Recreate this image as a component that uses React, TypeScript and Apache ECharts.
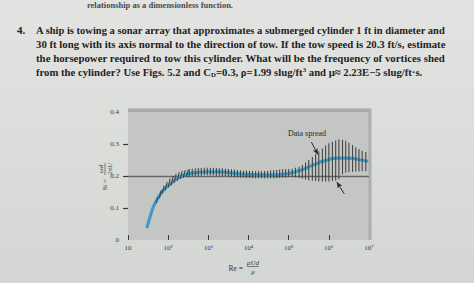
import React, { useEffect, useRef } from 'react';
import * as echarts from 'echarts';

// ---------- text content ----------
const cutLine = 'relationship as a dimensionless function.';
const problemNumber = '4.';
const problemLines = [
  'A ship is towing a sonar array that approximates a submerged cylinder 1 ft in diameter and',
  '30 ft long with its axis normal to the direction of tow. If the tow speed is 20.3 ft/s, estimate',
  'the horsepower required to tow this cylinder. What will be the frequency of vortices shed',
];
const lastLineRich =
  'from the cylinder? Use Figs. 5.2 and C{sub|D}=0.3, ρ=1.99 slug/ft{sup|3} and μ≈ 2.23E−5 slug/ft·s.';
const lastLinePlain =
  'from the cylinder? Use Figs. 5.2 and CD=0.3, ρ=1.99 slug/ft3 and μ≈ 2.23E−5 slug/ft·s.';
const spreadLabel = 'Data spread';

// ---------- chart data ----------
// Strouhal number curve St vs Re
const curveRe = [29.5, 35.5, 44.7, 60, 79, 117, 170, 250, 450, 950, 2000, 4000, 1e4, 3.2e4, 1e5, 2e5, 4e5, 8e5, 1.6e6, 3.2e6, 6.3e6, 9.6e6];
const curveSt = [0.037, 0.073, 0.109, 0.137, 0.158, 0.177, 0.193, 0.203, 0.21, 0.213, 0.213, 0.209, 0.205, 0.203, 0.208, 0.218, 0.234, 0.248, 0.256, 0.256, 0.25, 0.246];

// data spread hatch lines (Re, low St, high St)
const spreadRe = [
  50, 60, 71, 84, 100, 119, 141, 168, 200, 237, 282, 335, 398, 473, 562, 668, 794, 944,
  1122, 1334, 1585, 1884, 2239, 2661, 3162, 3758, 4467, 5309, 6310, 7499, 8913,
  10590, 12590, 14960, 17780, 21130, 25120, 29850, 35480, 42170, 50120, 59570, 70790, 84140,
  1.0e5, 1.23e5, 1.48e5, 1.82e5, 2.19e5, 2.63e5, 3.16e5, 3.89e5, 4.68e5, 5.62e5, 6.92e5, 8.32e5,
  1.0e6, 1.23e6, 1.48e6, 1.78e6, 2.19e6, 2.63e6, 3.16e6, 3.89e6, 4.68e6, 5.62e6, 6.76e6, 8.32e6,
];
const spreadLow = [
  0.115, 0.132, 0.145, 0.155, 0.164, 0.171, 0.179, 0.185, 0.19, 0.194, 0.197, 0.198, 0.199, 0.2, 0.2, 0.201, 0.202, 0.202,
  0.202, 0.202, 0.201, 0.201, 0.2, 0.2, 0.199, 0.198, 0.197, 0.196, 0.195, 0.195, 0.194,
  0.194, 0.193, 0.193, 0.193, 0.193, 0.193, 0.193, 0.193, 0.193, 0.193, 0.194, 0.195, 0.195,
  0.197, 0.197, 0.196, 0.194, 0.192, 0.189, 0.187, 0.185, 0.184, 0.183, 0.183, 0.183,
  0.183, 0.184, 0.186, 0.19, 0.205, 0.21, 0.212, 0.213, 0.214, 0.214, 0.215, 0.215,
];
const spreadHigh = [
  0.135, 0.155, 0.17, 0.182, 0.192, 0.2, 0.207, 0.212, 0.216, 0.218, 0.22, 0.222, 0.223, 0.224, 0.225, 0.225, 0.226, 0.226,
  0.226, 0.225, 0.225, 0.224, 0.224, 0.223, 0.222, 0.221, 0.22, 0.219, 0.218, 0.217, 0.217,
  0.216, 0.216, 0.215, 0.215, 0.215, 0.216, 0.216, 0.217, 0.218, 0.219, 0.22, 0.221, 0.222,
  0.222, 0.223, 0.226, 0.229, 0.234, 0.242, 0.25, 0.259, 0.268, 0.277, 0.286, 0.295,
  0.302, 0.307, 0.311, 0.314, 0.313, 0.31, 0.304, 0.297, 0.29, 0.284, 0.279, 0.275,
];

// arrows pointing to the data spread: [fromRe, fromSt, toRe, toSt]
const arrowUpper = [3.68e5, 0.306, 5.33e5, 0.267];
const arrowLower = [2.43e6, 0.144, 1.58e6, 0.181];
const referenceSt = 0.2;

const yTickValues = [0.1, 0.2, 0.3];
const supDigits: Record<number, string> = { 2: '²', 3: '³', 4: '⁴', 5: '⁵', 6: '⁶', 7: '⁷' };

const SERIF = '"Liberation Serif", "DejaVu Serif", serif';

function measure(text: string, font: string): number {
  const c = document.createElement('canvas');
  const ctx = c.getContext('2d');
  if (!ctx) return 400;
  ctx.font = font;
  return ctx.measureText(text).width;
}

export default function App() {
  const ref = useRef<HTMLDivElement>(null);

  useEffect(() => {
    if (!ref.current) return;
    const chart = echarts.init(ref.current, null, { renderer: 'svg' });

    const textFont = `bold 11px ${SERIF}`;
    const targets = [410, 410, 410];
    const lineYs = [29.5, 43.5, 57.5, 71.5];
    const textColor = '#232322';

    const textGraphics: any[] = problemLines.map((t, i) => {
      const w = measure(t, textFont);
      return {
        type: 'text',
        x: 36,
        y: lineYs[i],
        scaleX: targets[i] / w,
        style: {
          text: t,
          font: textFont,
          fill: textColor,
          textVerticalAlign: 'middle',
          textAlign: 'left',
        },
      };
    });
    const w4 = measure(lastLinePlain, textFont);
    textGraphics.push({
      type: 'text',
      x: 36,
      y: lineYs[3],
      scaleX: 391 / w4,
      style: {
        text: lastLineRich,
        font: textFont,
        fill: textColor,
        textVerticalAlign: 'middle',
        textAlign: 'left',
        rich: {
          sub: { fontSize: 7, fontWeight: 'bold', fontFamily: SERIF, fill: textColor, padding: [5, 0, 0, 0] },
          sup: { fontSize: 7, fontWeight: 'bold', fontFamily: SERIF, fill: textColor, padding: [0, 0, 5, 0] },
        },
      },
    });
    textGraphics.push({
      type: 'text',
      x: 17,
      y: lineYs[0],
      style: { text: problemNumber, font: textFont, fill: textColor, textVerticalAlign: 'middle' },
    });
    textGraphics.push({
      type: 'text',
      x: 233,
      y: 5,
      style: { text: cutLine, font: `bold 8.5px ${SERIF}`, fill: '#4a4a48', textVerticalAlign: 'middle', textAlign: 'right' },
    });

    const smallFont = `7px ${SERIF}`;
    const italicFont = `italic 7px ${SERIF}`;
    const labelColor = '#3a3a38';

    const option: any = {
      animation: false,
      backgroundColor: 'transparent',
      grid: {
        left: 128,
        right: 105,
        top: 112,
        bottom: 43,
        show: true,
        backgroundColor: '#c4c6c3',
        borderWidth: 0,
      },
      xAxis: {
        type: 'log',
        logBase: 10,
        min: 10,
        max: 1e7,
        splitNumber: 6,
        axisLine: { show: false },
        splitLine: { show: false },
        axisTick: { show: true, inside: true, length: 5, lineStyle: { color: '#3a3a38', width: 1 } },
        axisLabel: {
          margin: 4,
          fontSize: 7,
          fontFamily: SERIF,
          color: labelColor,
          formatter: (v: number) => {
            const e = Math.round(Math.log10(v));
            return e === 1 ? '10' : '10' + (supDigits[e] || '');
          },
        },
      },
      yAxis: {
        type: 'value',
        min: 0,
        max: 0.4,
        interval: 0.1,
        axisLine: { show: false },
        splitLine: { show: false },
        axisTick: {
          show: true,
          inside: false,
          length: 5,
          customValues: yTickValues,
          lineStyle: { color: '#3a3a38', width: 1.2 },
        },
        axisLabel: {
          margin: 9,
          fontSize: 7,
          fontFamily: SERIF,
          color: labelColor,
          formatter: (v: number) => (v === 0 ? '0' : v.toFixed(1)),
        },
      },
      series: [
        {
          type: 'line',
          data: curveRe.map((r, i) => [r, curveSt[i]]),
          smooth: true,
          showSymbol: false,
          lineStyle: { color: '#3d9cc8', width: 3.2 },
          z: 3,
          markLine: {
            silent: true,
            symbol: 'none',
            label: { show: false },
            lineStyle: { color: '#666764', width: 1.3, type: 'solid' },
            data: [{ yAxis: referenceSt }],
            z: 2,
          },
        },
        {
          type: 'custom',
          data: spreadRe.map((r, i) => [r, spreadLow[i], spreadHigh[i]]),
          encode: { x: 0, y: [1, 2] },
          z: 4,
          renderItem: (params: any, api: any) => {
            const a = api.coord([api.value(0), api.value(1)]);
            const b = api.coord([api.value(0), api.value(2)]);
            const lean = api.value(0) < 300 ? 2 : 0;
            return {
              type: 'line',
              shape: { x1: a[0], y1: a[1], x2: b[0] + lean, y2: b[1] },
              style: { stroke: '#383a3a', lineWidth: 1.1, opacity: 0.9 },
            };
          },
        },
        {
          type: 'line',
          data: [],
          markLine: {
            silent: true,
            symbol: ['none', 'arrow'],
            symbolSize: [4, 6],
            label: { show: false },
            lineStyle: { color: '#2a2a2a', width: 1, type: 'solid' },
            data: [
              [{ coord: [arrowUpper[0], arrowUpper[1]] }, { coord: [arrowUpper[2], arrowUpper[3]] }],
              [{ coord: [arrowLower[0], arrowLower[1]] }, { coord: [arrowLower[2], arrowLower[3]] }],
            ],
          },
        },
      ],
      graphic: [
        // plot frame strips (top and right)
        { type: 'rect', shape: { x: 128, y: 108.5, width: 243, height: 3.5 }, style: { fill: '#a8aaa7' }, z: 1 },
        { type: 'rect', shape: { x: 368.5, y: 108.5, width: 3, height: 131.5 }, style: { fill: '#adafac' }, z: 1 },
        ...textGraphics,
        {
          type: 'text',
          x: 307,
          y: 133,
          style: { text: spreadLabel, font: `8px ${SERIF}`, fill: '#2a2a2a', textAlign: 'center', textVerticalAlign: 'middle' },
        },
        // x axis name: Re = ρUd / μ
        {
          type: 'text',
          x: 243,
          y: 268,
          style: { text: 'Re =', font: `7.5px ${SERIF}`, fill: labelColor, textAlign: 'right', textVerticalAlign: 'middle' },
        },
        {
          type: 'text',
          x: 253,
          y: 262.5,
          style: { text: 'ρUd', font: italicFont, fill: labelColor, textAlign: 'center', textVerticalAlign: 'middle' },
        },
        { type: 'line', shape: { x1: 247, y1: 266.5, x2: 259, y2: 266.5 }, style: { stroke: labelColor, lineWidth: 0.6 } },
        {
          type: 'text',
          x: 253,
          y: 271.5,
          style: { text: 'μ', font: italicFont, fill: labelColor, textAlign: 'center', textVerticalAlign: 'middle' },
        },
        // y axis name: St = ωd / 2πU (rotated)
        {
          type: 'group',
          x: 105,
          y: 175,
          rotation: Math.PI / 2,
          children: [
            {
              type: 'text',
              x: -4,
              y: 0,
              style: { text: 'St =', font: smallFont, fill: labelColor, textAlign: 'right', textVerticalAlign: 'middle' },
            },
            {
              type: 'text',
              x: 6,
              y: -4,
              style: { text: 'ωd', font: italicFont, fill: labelColor, textAlign: 'center', textVerticalAlign: 'middle' },
            },
            { type: 'line', shape: { x1: 0, y1: 0, x2: 12, y2: 0 }, style: { stroke: labelColor, lineWidth: 0.6 } },
            {
              type: 'text',
              x: 6,
              y: 4.5,
              style: { text: '2πU', font: italicFont, fill: labelColor, textAlign: 'center', textVerticalAlign: 'middle' },
            },
          ],
        },
      ],
    };

    chart.setOption(option);
    return () => chart.dispose();
  }, []);

  return (
    <div
      ref={ref}
      style={{
        position: 'fixed',
        left: 0,
        top: 0,
        width: 474,
        height: 283,
        background: 'linear-gradient(180deg, #e3e4e1 0%, #dcdedb 45%, #d4d6d3 100%)',
      }}
    />
  );
}
